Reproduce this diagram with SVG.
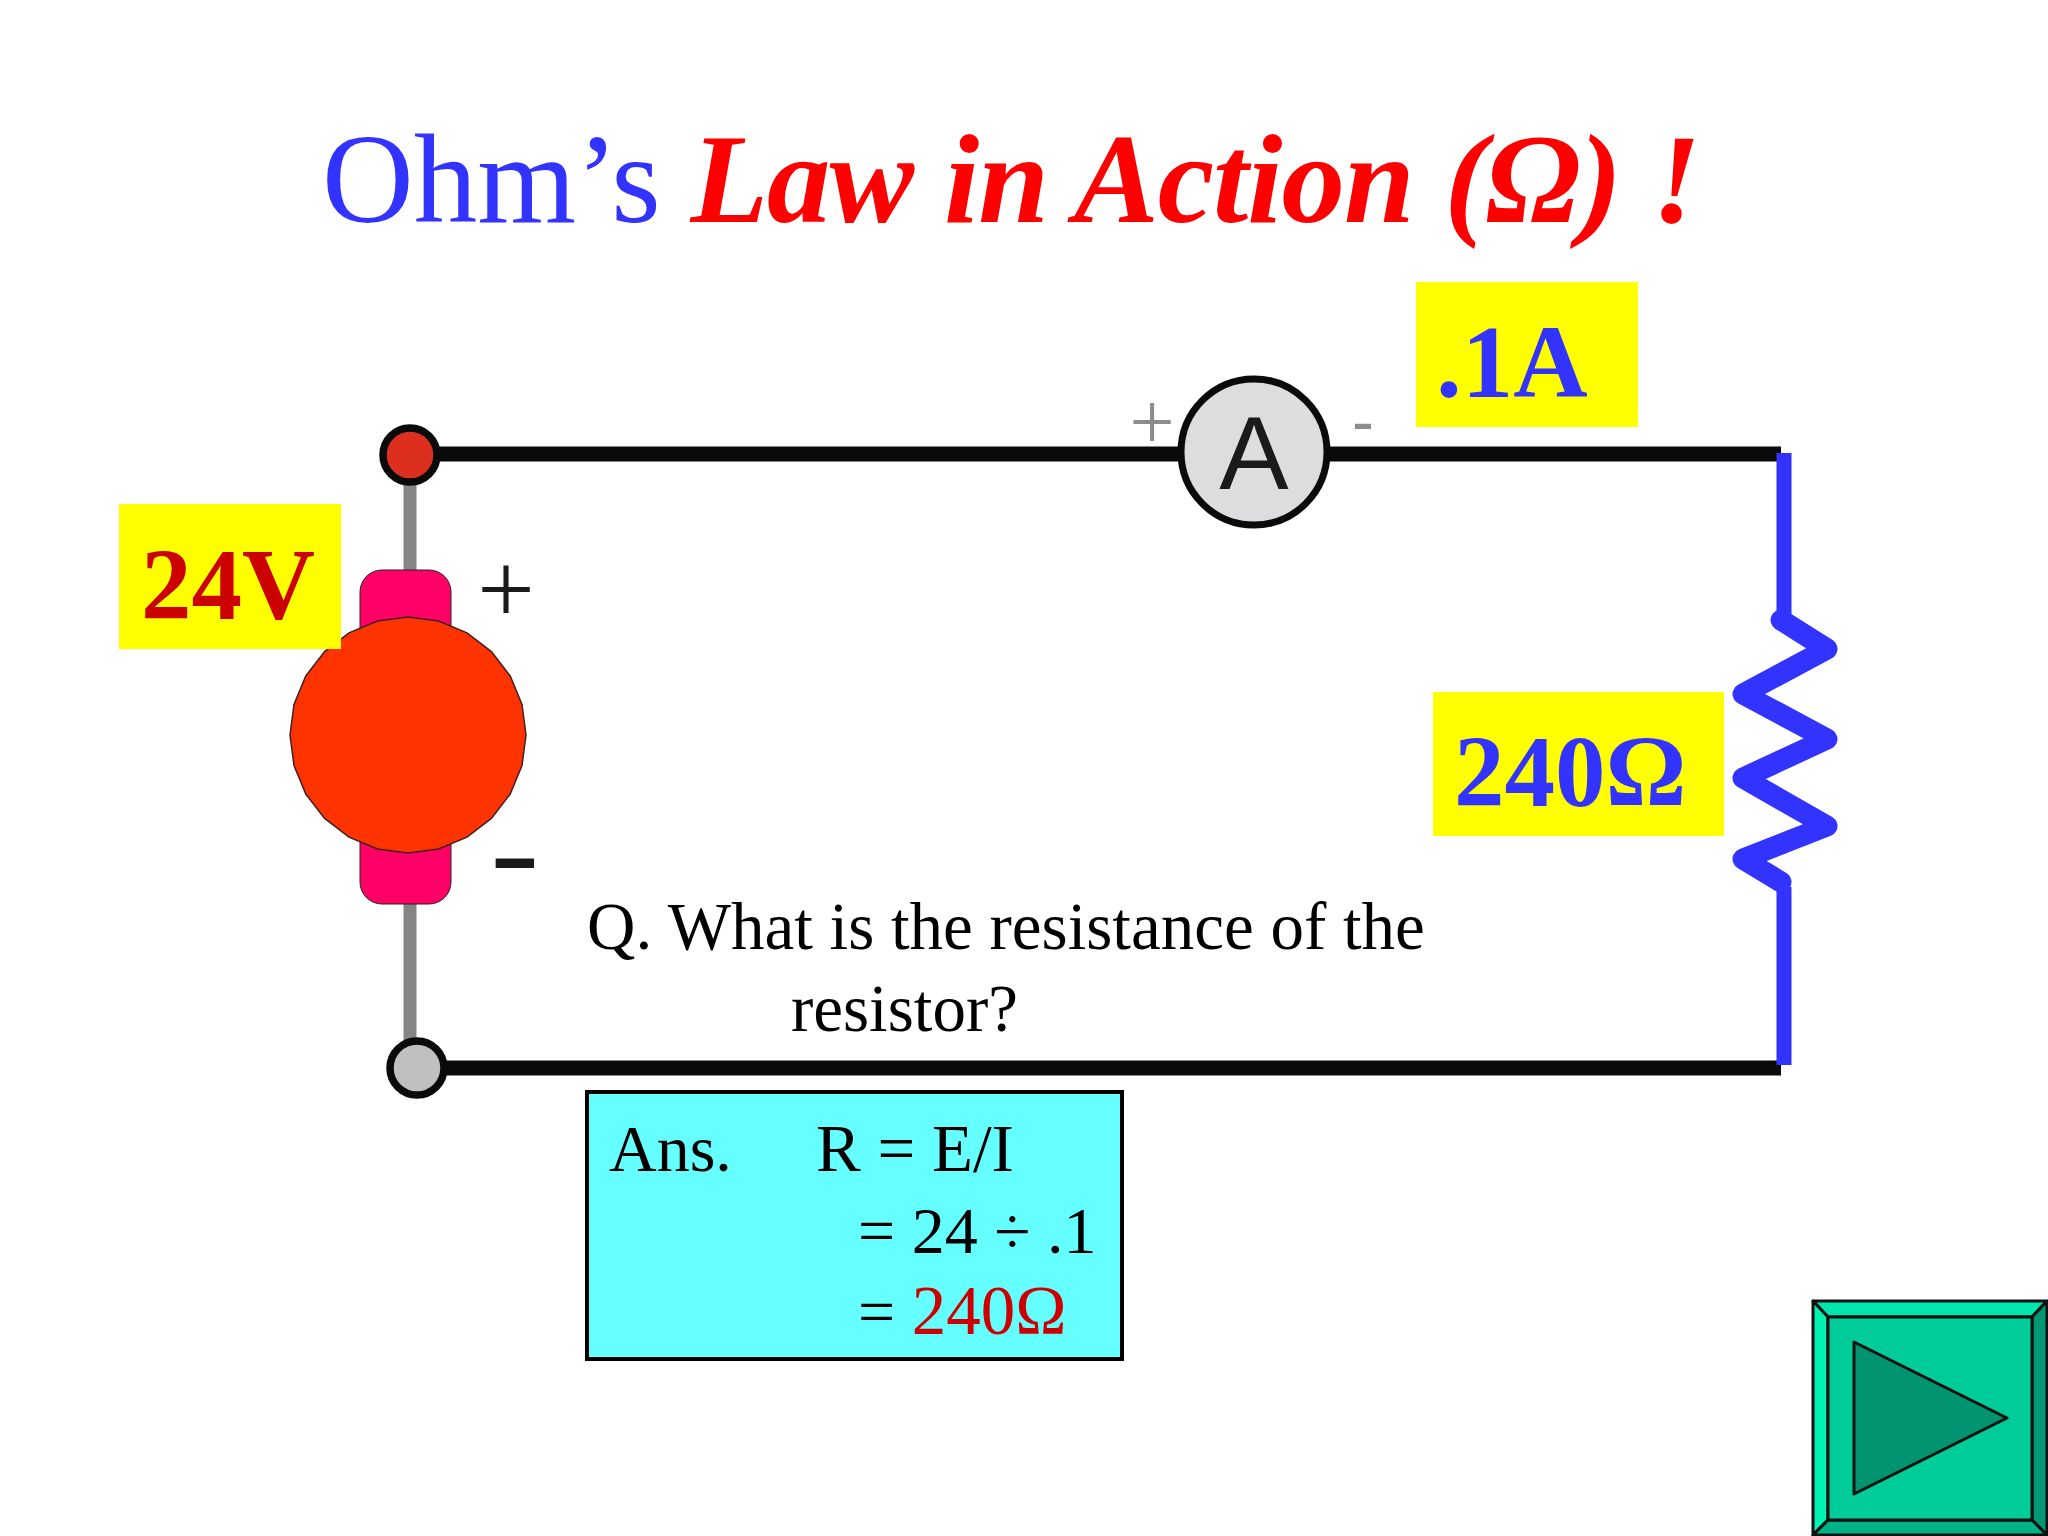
<svg xmlns="http://www.w3.org/2000/svg" width="2048" height="1536" viewBox="0 0 2048 1536">
<style>
text{font-family:"Liberation Serif",serif;white-space:pre}
.t{font-size:127px}
.blue{fill:#3333ff}
.lab{font-size:101px;font-weight:bold}
.body{font-size:67px;fill:#000}
.ans{font-size:66px;fill:#000}
.sans{font-family:"Liberation Sans",sans-serif}
.wire{stroke:#0a0a0a;stroke-width:15;fill:none}
.ylw{fill:#ffff00}
.btn{stroke:#101010;stroke-width:3;stroke-linejoin:round}
</style>
<rect width="2048" height="1536" fill="#fff"/>
<text id="title" class="t" x="322" y="222"><tspan class="blue">Ohm’s </tspan><tspan fill="#ff0000" font-weight="bold" font-style="italic" letter-spacing="-1" dx="-2">Law in Action (Ω) !</tspan></text>
<g id="connectors">
<path d="M410 455V1068" fill="none" stroke="#858585" stroke-width="13"/>
<path class="wire" d="M410 454H1781"/>
<path class="wire" d="M416 1068H1781"/>
<path d="M1784 453V621M1784 887V1065" fill="none" stroke="#3333ff" stroke-width="15"/>
<path d="M1781 620L1827 649L1743 694L1827 739L1743 778L1827 826L1743 859L1781 882" fill="none" stroke="#3333ff" stroke-width="21" stroke-linejoin="round" stroke-linecap="round"/>
</g>
<g id="battery">
<rect x="360" y="570" width="91" height="334" rx="22" fill="#ff0066" stroke="#222" stroke-width="1"/>
<polygon points="526,735 522,765.500 510.200,794 491.400,818.400 467,837.200 438.500,849 408,853 377.500,849 349,837.200 324.600,818.400 305.800,794 294,765.500 290,735 294,704.500 305.800,676 324.600,651.600 349,632.800 377.500,621 408,617 438.500,621 467,632.800 491.400,651.600 510.200,676 522,704.500" fill="#ff3300" stroke="#402020" stroke-width="1.500"/>
</g>
<g id="terminal-top"><circle cx="410" cy="455" r="27" fill="#dc2f1e" stroke="#0a0a0a" stroke-width="7.500"/></g>
<g id="terminal-bottom"><circle cx="417" cy="1068" r="27" fill="#c0c0c0" stroke="#0a0a0a" stroke-width="7.500"/></g>
<g id="ammeter">
<circle cx="1254" cy="452" r="73" fill="#dddcdf" stroke="#0a0a0a" stroke-width="7"/>
<text class="sans" x="1254" y="489" font-size="104" text-anchor="middle" fill="#1a1a1a">A</text>
<text x="1152" y="449" font-size="80" text-anchor="middle" fill="#8c8c8c">+</text>
<text class="sans" x="1363" y="444" font-size="66" text-anchor="middle" fill="#8c8c8c">-</text>
</g>
<g id="label-current"><rect class="ylw" x="1416" y="282" width="222" height="145"/><text class="lab blue" x="1436" y="397" style="font-size:103px">.1A</text></g>
<g id="label-voltage"><rect class="ylw" x="119" y="504" width="222" height="145"/><text class="lab" x="141" y="619" fill="#cc0000">24V</text></g>
<g id="label-resistance"><rect class="ylw" x="1433" y="692" width="291" height="144"/><text class="lab blue" x="1454" y="806">240Ω</text></g>
<text x="506" y="623" font-size="102" text-anchor="middle" fill="#1a1a1a">+</text>
<text class="sans" transform="translate(515 869) scale(2.100 1.100)" y="14" font-size="72" font-weight="bold" text-anchor="middle" fill="#1a1a1a">-</text>
<g id="question">
<text class="body" x="587" y="949">Q. What is the resistance of the</text>
<text class="body" x="791" y="1031">resistor?</text>
</g>
<g id="answer">
<rect x="587" y="1092" width="535" height="267" fill="#66ffff" stroke="#000" stroke-width="4"/>
<text class="ans" x="609" y="1171">Ans.</text>
<text class="ans" style="font-size:67px" x="816" y="1171">R = E/I</text>
<text class="ans" x="858" y="1253">= 24 ÷ .1</text>
<text class="ans" x="858" y="1334">= <tspan fill="#cc0000" style="font-size:69px">240Ω</tspan></text>
</g>
<g id="next-button">
<polygon class="btn" points="1813,1301 2047,1301 2032,1317 1828,1317" fill="#00e6ac"/>
<polygon class="btn" points="1813,1301 1828,1317 1828,1520 1813,1535" fill="#00f2b2"/>
<polygon class="btn" points="2047,1301 2047,1535 2032,1520 2032,1317" fill="#009973"/>
<polygon class="btn" points="1813,1535 1828,1520 2032,1520 2047,1535" fill="#00b386"/>
<rect class="btn" x="1828" y="1317" width="204" height="203" fill="#00cc99"/>
<polygon class="btn" points="1854,1342 2007,1418 1854,1494" fill="#009470"/>
</g>
</svg>
